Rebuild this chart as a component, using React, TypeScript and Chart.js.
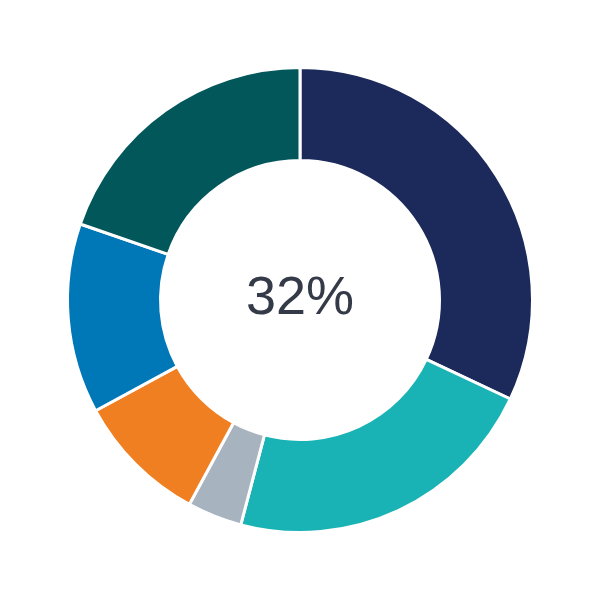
import React, { useEffect, useRef } from "react";
import { Chart, registerables } from "chart.js";

Chart.register(...registerables);

const labels = ["A", "B", "C", "D", "E", "F"];
const values = [32, 22.1, 3.8, 9.2, 13.2, 19.7];
const colors = ["#1c2a5b", "#1ab3b5", "#a8b3c0", "#f07f22", "#0077b6", "#02575a"];
const centerText = "32%";

const centerPlugin = {
  id: "centerText",
  afterDraw(chart: any) {
    const { ctx, chartArea } = chart;
    const cx = (chartArea.left + chartArea.right) / 2;
    const cy = (chartArea.top + chartArea.bottom) / 2;
    ctx.save();
    ctx.font = '54px "Liberation Sans", Arial, sans-serif';
    ctx.fillStyle = "#353a48";
    ctx.textAlign = "center";
    ctx.textBaseline = "middle";
    ctx.fillText(centerText, cx, cy - 1);
    ctx.restore();
  },
};

export default function App() {
  const ref = useRef<HTMLCanvasElement>(null);
  useEffect(() => {
    const chart = new Chart(ref.current!, {
      type: "doughnut",
      data: {
        labels,
        datasets: [
          {
            data: values,
            backgroundColor: colors,
            borderColor: "#ffffff",
            borderWidth: 3,
          },
        ],
      },
      options: {
        animation: false,
        responsive: true,
        maintainAspectRatio: false,
        cutout: "60%",
        layout: { padding: 58 },
        plugins: { legend: { display: false }, tooltip: { enabled: false } },
      },
      plugins: [centerPlugin],
    });
    return () => chart.destroy();
  }, []);
  return (
    <div style={{ width: 584, height: 584, position: "relative" }}>
      <canvas ref={ref} />
    </div>
  );
}
